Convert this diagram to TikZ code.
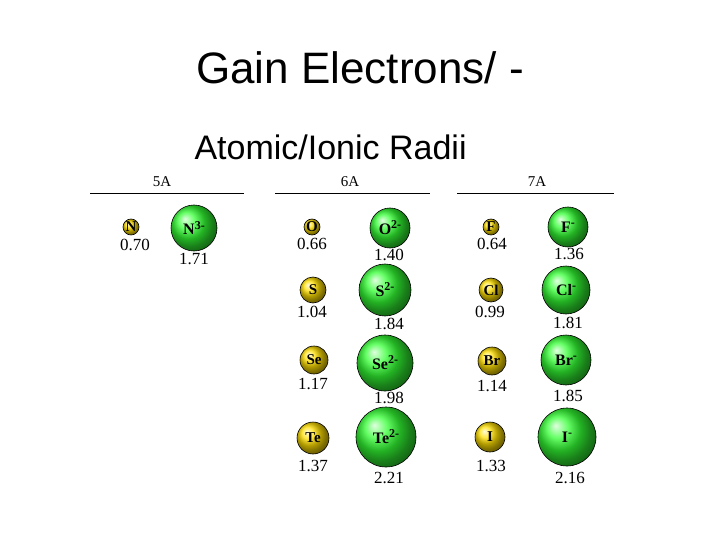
\documentclass[tikz,border=0pt]{standalone}
\usepackage{fontspec}
\setmainfont{Liberation Serif}
\newfontfamily\arial{Liberation Sans}
\begin{document}
\begin{tikzpicture}[x=1pt,y=-1pt,
  atom/.style={circle,draw=black,line width=0.6pt,ball color=yellow!75!orange,inner sep=0pt,font=\bfseries\fontsize{15}{15}\selectfont},
  ion/.style={circle,draw=black,line width=0.6pt,ball color=green!80!white,inner sep=0pt,font=\bfseries\fontsize{16}{16}\selectfont},
  val/.style={font=\fontsize{17}{17}\selectfont},
  hdr/.style={font=\fontsize{15}{15}\selectfont}]
\useasboundingbox[fill=white] (0,0) rectangle (720,540);
\node[font=\arial\fontsize{44}{44}\selectfont] (title) at (360,68) {Gain Electrons/ -};
\node[font=\arial\fontsize{34}{34}\selectfont,anchor=west] (sub) at (191,147) {Atomic/Ionic Radii};
\node[hdr] (h5) at (162,182) {5A};
\node[hdr] (h6) at (350,182) {6A};
\node[hdr] (h7) at (537,182) {7A};
\draw[line width=0.8pt] (90,193) -- (244,193);
\draw[line width=0.8pt] (275,193) -- (430,193);
\draw[line width=0.8pt] (457,193) -- (614,193);
\foreach \n/\x/\y/\r/\lab/\vx/\vy/\v in {
  N/131/227/8/N/135/245/0.70,
  O/312/227/8/O/312/244/0.66,
  S/313/290/13/S/312/312/1.04,
  Se/314/360/14/Se/313/384/1.17,
  Te/313/438/16/Te/313/466/1.37,
  F/491/227/8/F/492/244/0.64,
  Cl/491/290/12/Cl/490/312/0.99,
  Br/492/361/14/Br/492/386/1.14,
  I/490/437/15/I/491/466/1.33}{
  \node[atom,minimum size=2*\r] (a\n) at (\x,\y) {\lab};
  \node[val] (va\n) at (\vx,\vy) {\v};
}
\foreach \n/\x/\y/\r/\lab/\ch/\vx/\vy/\v in {
  N/194/228/23/N/3-/194/259/1.71,
  O/390/228/20/O/2-/389/255/1.40,
  S/385/290/26/S/2-/389/324/1.84,
  Se/385/363/28/Se/2-/389/398/1.98,
  Te/386/437/30/Te/2-/389/478/2.21,
  F/568/227/20/F/-/569/254/1.36,
  Cl/566/290/24/Cl/-/568/323/1.81,
  Br/566/360/25/Br/-/568/396/1.85,
  I/567/437/29/I/-/570/478/2.16}{
  \node[ion,minimum size=2*\r] (i\n) at (\x,\y) {\lab\raisebox{0.8ex}{\fontsize{12}{12}\selectfont\ch}};
  \node[val] (vi\n) at (\vx,\vy) {\v};
}
\end{tikzpicture}
\end{document}
